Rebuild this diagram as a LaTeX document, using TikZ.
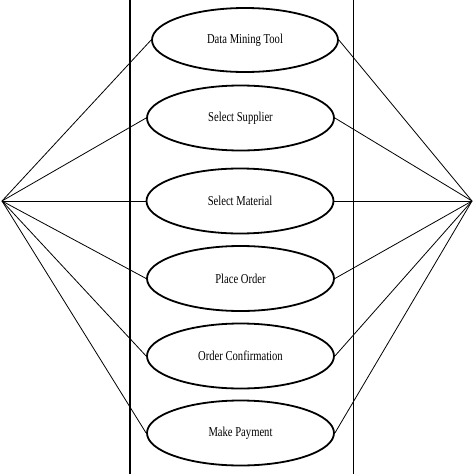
\documentclass[tikz,border=0pt]{standalone}
\usepackage{fontspec}
\setmainfont{Liberation Serif}[FakeStretch=0.78]
\usetikzlibrary{shapes.geometric}
\tikzset{
  usecase/.style={draw, ellipse, line width=1.8pt, inner sep=0pt,
    minimum width=187pt, minimum height=65pt,
    font=\fontsize{13.6pt}{15pt}\selectfont},
  boundary/.style={line width=1.8pt},
  assoc/.style={line width=0.8pt}
}
\begin{document}
\begin{tikzpicture}[x=1pt,y=-1pt]
\useasboundingbox (0,0) rectangle (474,474);
\fill[white] (0,0) rectangle (474,474);
\coordinate (L) at (2,201);
\coordinate (R) at (472,201);
\coordinate (b1t) at (130,0);
\coordinate (b1b) at (130,474);
\coordinate (b2t) at (353.5,0);
\coordinate (b2b) at (353.5,474);
\node[usecase, minimum width=186pt, minimum height=64pt] (e1) at (245,40) {Data Mining Tool};
\node[usecase] (e2) at (240.5,118) {Select Supplier};
\node[usecase] (e3) at (240,201) {Select Material};
\node[usecase] (e4) at (240.5,278.5) {Place Order};
\node[usecase] (e5) at (240.5,356) {Order Confirmation};
\node[usecase] (e6) at (240.5,433) {Make Payment};
\draw[boundary] (b1t) -- (b1b);
\draw[boundary] (b2t) -- (b2b);
\foreach \e in {e1,e2,e3,e4,e5,e6}{
  \draw[assoc] (L) -- (\e.west);
  \draw[assoc] (R) -- (\e.east);
}
\end{tikzpicture}
\end{document}
